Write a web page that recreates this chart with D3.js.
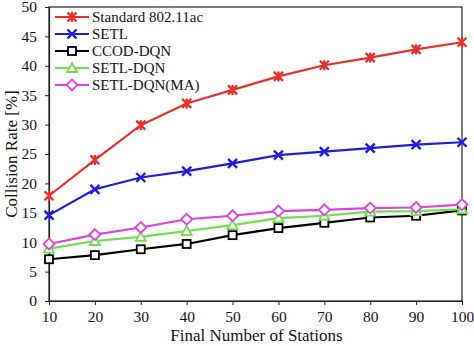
<!DOCTYPE html>
<html><head><meta charset="utf-8">
<script src="https://cdn.jsdelivr.net/npm/d3@7"></script>
<style>body{margin:0;background:#fff}svg{display:block}</style>
</head><body><svg id="c" width="474" height="346" font-family="Liberation Serif"></svg>
<script>
const stations = [10,20,30,40,50,60,70,80,90,100];
const yTicks = [0,5,10,15,20,25,30,35,40,45,50];
const seriesNames = ["Standard 802.11ac","SETL","CCOD-DQN","SETL-DQN","SETL-DQN(MA)"];
const standard = [17.9,24.0,29.9,33.6,35.9,38.2,40.1,41.4,42.8,44.0];
const setl = [14.6,19.0,21.0,22.1,23.4,24.8,25.4,26.0,26.6,27.0];
const ccod = [7.1,7.8,8.8,9.7,11.2,12.4,13.3,14.2,14.5,15.4];
const setlDqn = [8.9,10.2,10.9,11.9,12.9,14.1,14.5,15.2,15.3,15.6];
const setlDqnMa = [9.7,11.3,12.5,13.9,14.5,15.3,15.5,15.8,15.9,16.4];
const colors = ["#e8302a","#1c1ce0","#000000","#6ee04c","#e23ee6"];
const markers = ["star","x","square","triangle","diamond"];
const allValues = [standard,setl,ccod,setlDqn,setlDqnMa];
const FONT = "Liberation Serif";

const svg = d3.select("#c");
const L=49,R=462,T=7,B=301;
const x = d3.scaleLinear().domain([10,100]).range([L,R]);
const y = d3.scaleLinear().domain([0,50]).range([B,T]);

svg.append("rect").attr("x",L).attr("y",T).attr("width",R-L).attr("height",B-T)
  .attr("fill","none").attr("stroke","#222").attr("stroke-width",1.2);

const xa = svg.append("g").attr("transform",`translate(0,${B})`)
  .call(d3.axisBottom(x).tickValues(stations).tickSize(4).tickPadding(6).tickSizeOuter(0));
const ya = svg.append("g").attr("transform",`translate(${L},0)`)
  .call(d3.axisLeft(y).tickValues(yTicks).tickSize(4).tickPadding(8).tickSizeOuter(0));
[xa,ya].forEach(a=>{
  a.attr("font-family",FONT).attr("font-size",15);
  a.selectAll("path").attr("stroke","#222").attr("stroke-width",1.2);
  a.selectAll("line").attr("stroke","#222");
  a.selectAll("text").attr("font-family",FONT).attr("font-size",15.5).attr("fill","#111");
});

svg.append("text").attr("x",(L+R)/2+1).attr("y",341).attr("text-anchor","middle")
  .attr("font-family",FONT).attr("font-size",17).attr("fill","#111").text("Final Number of Stations");
svg.append("text").attr("transform",`translate(17,${(T+B)/2}) rotate(-90)`)
  .attr("text-anchor","middle").attr("font-family",FONT).attr("font-size",17).attr("fill","#111").text("Collision Rate [%]");

function drawMarker(g,type,cx,cy,color){
  const s=4.5;
  if(type==="star"){
    g.append("path").attr("d",`M${cx-s},${cy-s}L${cx+s},${cy+s}M${cx-s},${cy+s}L${cx+s},${cy-s}M${cx},${cy-s-0.5}L${cx},${cy+s+0.5}`)
      .attr("stroke",color).attr("stroke-width",2.3).attr("fill","none");
  } else if(type==="x"){
    g.append("path").attr("d",`M${cx-s},${cy-s}L${cx+s},${cy+s}M${cx-s},${cy+s}L${cx+s},${cy-s}`)
      .attr("stroke",color).attr("stroke-width",2.4).attr("fill","none");
  } else if(type==="square"){
    g.append("rect").attr("x",cx-4).attr("y",cy-4).attr("width",8).attr("height",8)
      .attr("fill","#fff").attr("stroke",color).attr("stroke-width",1.8);
  } else if(type==="triangle"){
    g.append("path").attr("d",`M${cx},${cy-5}L${cx+5},${cy+4}L${cx-5},${cy+4}Z`)
      .attr("fill","#fff").attr("stroke",color).attr("stroke-width",1.8);
  } else {
    g.append("path").attr("d",`M${cx},${cy-5.5}L${cx+5.5},${cy}L${cx},${cy+5.5}L${cx-5.5},${cy}Z`)
      .attr("fill","#fff").attr("stroke",color).attr("stroke-width",1.8);
  }
}

const line = d3.line().x((d,i)=>x(stations[i])).y(d=>y(d));
const order=[2,3,4,1,0];
order.forEach(k=>{
  const g=svg.append("g");
  g.append("path").datum(allValues[k]).attr("d",line).attr("fill","none")
    .attr("stroke",colors[k]).attr("stroke-width",2.2);
  allValues[k].forEach((v,i)=>drawMarker(g,markers[k],x(stations[i]),y(v),colors[k]));
});

seriesNames.forEach((n,k)=>{
  const ly=17+k*17;
  const g=svg.append("g");
  g.append("line").attr("x1",55).attr("x2",89).attr("y1",ly).attr("y2",ly)
    .attr("stroke",colors[k]).attr("stroke-width",2.2);
  drawMarker(g,markers[k],72,ly,colors[k]);
  g.append("text").attr("x",92).attr("y",ly+5).attr("font-family",FONT).attr("font-size",15).attr("fill","#111").text(n);
});
</script></body></html>
